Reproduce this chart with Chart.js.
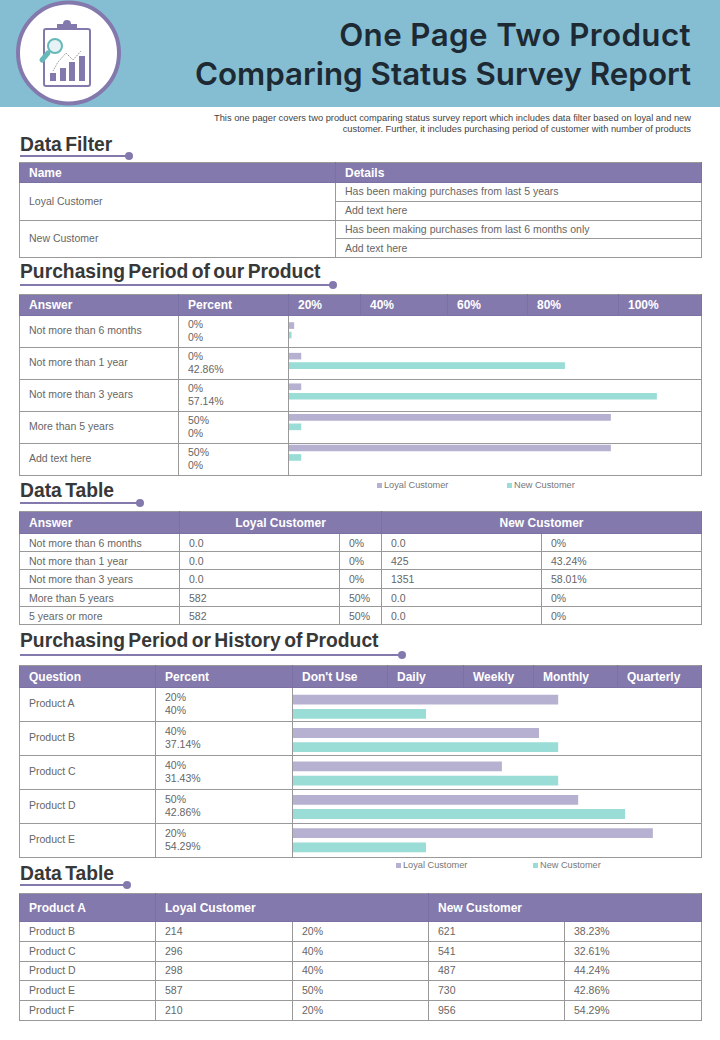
<!DOCTYPE html>
<html>
<head>
<meta charset="utf-8">
<title>One Page Two Product Comparing Status Survey Report</title>
<script src="https://cdn.jsdelivr.net/npm/chart.js@4"></script>
<style>
html, body { margin: 0; padding: 0; background: #fff; }
#page { position: relative; width: 720px; height: 1040px; overflow: hidden; font-family: "Liberation Sans", Arial, sans-serif; }
#banner { position: absolute; left: 0; top: 0; width: 720px; height: 107px; background: #85bed3; }
#title { position: absolute; right: 29px; top: 16px; text-align: right; font-family: Inter, sans-serif; font-weight: 600; font-size: 31.3px; line-height: 39px; color: #1e2a33; white-space: nowrap; }
#title span { letter-spacing: 0.4px; }
#icon { position: absolute; left: 0; top: 0; }
#intro { position: absolute; right: 29px; top: 113px; width: 500px; text-align: right; font-size: 9.3px; line-height: 11px; color: #444; }
.head { position: absolute; left: 20px; font-weight: bold; font-size: 19.3px; line-height: 24px; color: #383838; white-space: nowrap; word-spacing: -2px; }
.rule { position: absolute; left: 20px; height: 2px; background: #8479ad; }
.rule i { position: absolute; right: -4px; top: -3px; width: 8px; height: 8px; border-radius: 50%; background: #8479ad; }
table { position: absolute; left: 19px; width: 682px; table-layout: fixed; border-collapse: collapse; border: 1px solid #999; font-size: 10.5px; color: #666; }
td, th { border: 1px solid #999; padding: 0 0 0 9px; overflow: hidden; white-space: nowrap; line-height: 13px; text-align: left; }
td { padding-bottom: 2px; }
table.low td { padding-bottom: 0; }
table.lower td { padding-top: 2px; padding-bottom: 0; }
td.plot { border-left-color: #666; padding: 0; }
th { background: #8479ad; color: #fff; font-size: 12px; font-weight: bold; border-color: #7b71a5; border-top-color: #999; padding-top: 1px; }
th.mid { text-align: center; padding: 1px 0 0 0; }
.chart { position: absolute; }
.legend { position: absolute; font-size: 9.2px; color: #777; white-space: nowrap; line-height: 10px; }
.legend i { display: inline-block; width: 5px; height: 5px; margin-right: 2px; vertical-align: 0; }
</style>
</head>
<body>
<div id="page">
  <div id="banner"></div>
  <svg id="icon" width="130" height="107" viewBox="0 0 130 107">
    <circle cx="68.5" cy="53" r="50.5" fill="#fff" stroke="#8479ad" stroke-width="4"/>
    <rect x="44" y="29" width="46" height="57" rx="2" fill="#fff" stroke="#8479ad" stroke-width="2"/>
    <path d="M57 29 v-5 h6 a4 4 0 0 1 8 0 h6 v5 z" fill="#8479ad"/>
    <rect x="50" y="73" width="6" height="8" fill="#8479ad"/>
    <rect x="60" y="68" width="6" height="13" fill="#8479ad"/>
    <rect x="69" y="62" width="6" height="19" fill="#8479ad"/>
    <rect x="79" y="56" width="6" height="25" fill="#8479ad"/>
    <polyline points="53,71 58,62 66,53 73,60 81,51" fill="none" stroke="#555" stroke-width="0.6" stroke-dasharray="1.5 1"/>
    <line x1="48" y1="53" x2="42" y2="60" stroke="#66b9b8" stroke-width="5" stroke-linecap="round"/>
    <circle cx="55" cy="46" r="7" fill="#e6f2f5" stroke="#66b9b8" stroke-width="2"/>
  </svg>
  <div id="title"><span>One Page Two Product</span><br>Comparing Status Survey Report</div>
  <div id="intro">This one pager covers two product comparing status survey report which includes data filter based on loyal and new<br>customer. Further, it includes purchasing period of customer with number of products</div>
</div>

<script>
// series
const seriesNames = ["Loyal Customer", "New Customer"];

// purchasing period chart
const periodAnswers = ["Not more than 6 months", "Not more than 1 year", "Not more than 3 years", "More than 5 years", "Add text here"];
const periodLoyalPct = ["0%", "0%", "0%", "50%", "50%"];
const periodNewPct = ["0%", "42.86%", "57.14%", "0%", "0%"];
const periodTicks = ["20%", "40%", "60%", "80%", "100%"];
const periodLoyal = [0.8, 1.9, 1.9, 50, 50];
const periodNew = [0.4, 42.86, 57.14, 1.9, 1.9];

// history chart
const historyProducts = ["Product A", "Product B", "Product C", "Product D", "Product E"];
const historyLoyalPct = ["20%", "40%", "40%", "50%", "20%"];
const historyNewPct = ["40%", "37.14%", "31.43%", "42.86%", "54.29%"];
const historyTicks = ["Don't Use", "Daily", "Weekly", "Monthly", "Quarterly"];
const historyLoyal = [65, 60.3, 51.2, 69.9, 88.2];
const historyNew = [32.6, 65, 65, 81.4, 32.6];

// data filter table
const filterNames = ["Loyal Customer", "New Customer"];
const filterDetails = [
  ["Has been making purchases from last 5 years", "Add text here"],
  ["Has been making purchases from last 6 months only", "Add text here"]
];

// first data table
const tableAnswers = ["Not more than 6 months", "Not more than 1 year", "Not more than 3 years", "More than 5 years", "5 years or more"];
const tableLoyalCount = ["0.0", "0.0", "0.0", "582", "582"];
const tableLoyalPct = ["0%", "0%", "0%", "50%", "50%"];
const tableNewCount = ["0.0", "425", "1351", "0.0", "0.0"];
const tableNewPct = ["0%", "43.24%", "58.01%", "0%", "0%"];

// second data table
const productNames = ["Product B", "Product C", "Product D", "Product E", "Product F"];
const productLoyalCount = ["214", "296", "298", "587", "210"];
const productLoyalPct = ["20%", "40%", "40%", "50%", "20%"];
const productNewCount = ["621", "541", "487", "730", "956"];
const productNewPct = ["38.23%", "32.61%", "44.24%", "42.86%", "54.29%"];

const purple = "#b7b1d1";
const teal = "#9adcd6";
const page = document.getElementById("page");

function addHeading(text, top, ruleTop, ruleEnd) {
    let h = document.createElement("div");
    h.className = "head";
    h.style.top = top + "px";
    h.textContent = text;
    page.appendChild(h);
    let r = document.createElement("div");
    r.className = "rule";
    r.style.top = ruleTop + "px";
    r.style.width = (ruleEnd - 20) + "px";
    r.innerHTML = "<i></i>";
    page.appendChild(r);
}

function addTable(top, cols, html, cls) {
    let t = document.createElement("table");
    t.style.top = top + "px";
    if (cls) {
        t.className = cls;
    }
    let g = "<colgroup>";
    for (let i = 0; i < cols.length; i++) {
        g += '<col style="width:' + cols[i] + 'px">';
    }
    t.innerHTML = g + "</colgroup>" + html;
    page.appendChild(t);
}

function headRow(h, cells) {
    return '<tr style="height:' + h + 'px">' + cells.join("") + "</tr>";
}

function th(text) {
    return "<th>" + text + "</th>";
}

function addLegend(top, left1, left2) {
    let lefts = [left1, left2];
    let colors = [purple, teal];
    for (let i = 0; i < seriesNames.length; i++) {
        let l = document.createElement("div");
        l.className = "legend";
        l.style.left = lefts[i] + "px";
        l.style.top = top + "px";
        l.innerHTML = '<i style="background:' + colors[i] + '"></i>' + seriesNames[i];
        page.appendChild(l);
    }
}

function addChart(left, top, width, height, labels, loyal, fresh, xMax, catPct, barPct) {
    let box = document.createElement("div");
    box.className = "chart";
    box.style.cssText = "left:" + left + "px;top:" + top + "px;width:" + width + "px;height:" + height + "px";
    let canvas = document.createElement("canvas");
    box.appendChild(canvas);
    page.appendChild(box);
    new Chart(canvas, {
        type: "bar",
        data: {
            labels: labels,
            datasets: [
                { label: seriesNames[0], data: loyal, backgroundColor: purple, categoryPercentage: catPct, barPercentage: barPct },
                { label: seriesNames[1], data: fresh, backgroundColor: teal, categoryPercentage: catPct, barPercentage: barPct }
            ]
        },
        options: {
            indexAxis: "y",
            responsive: true,
            maintainAspectRatio: false,
            animation: false,
            layout: { padding: 0 },
            plugins: { legend: { display: false }, tooltip: { enabled: false } },
            scales: {
                x: { display: false, min: 0, max: xMax },
                y: { display: false }
            }
        }
    });
}

// Data Filter
addHeading("Data Filter", 133, 155, 129);
let filterHtml = headRow(20, [th("Name"), th("Details")]);
for (let i = 0; i < filterNames.length; i++) {
    filterHtml += '<tr style="height:18.75px"><td rowspan="2">' + filterNames[i] + "</td><td>" + filterDetails[i][0] + "</td></tr>";
    filterHtml += '<tr style="height:18.75px"><td>' + filterDetails[i][1] + "</td></tr>";
}
addTable(162, [316, 366], filterHtml, "low");

// Purchasing Period of our Product
addHeading("Purchasing Period of our Product", 260, 284, 333);
let periodHtml = headRow(21, [th("Answer"), th("Percent")].concat(periodTicks.map(th)));
for (let i = 0; i < periodAnswers.length; i++) {
    periodHtml += '<tr style="height:32px"><td>' + periodAnswers[i] + "</td><td>" + periodLoyalPct[i] + "<br>" + periodNewPct[i] + '</td><td class="plot" colspan="5"></td></tr>';
}
addTable(294, [159, 110, 72, 87, 80, 91, 83], periodHtml);
addChart(289, 315, 412, 153, periodAnswers, periodLoyal, periodNew, 64, 0.62, 0.7);
addLegend(480, 377, 507);

// Data Table
addHeading("Data Table", 479, 502, 140);
let tableHtml = headRow(22, [th("Answer"), '<th class="mid" colspan="2">' + seriesNames[0] + "</th>", '<th class="mid" colspan="2">' + seriesNames[1] + "</th>"]);
for (let i = 0; i < tableAnswers.length; i++) {
    tableHtml += '<tr style="height:18.2px"><td>' + tableAnswers[i] + "</td><td>" + tableLoyalCount[i] + "</td><td>" + tableLoyalPct[i] + "</td><td>" + tableNewCount[i] + "</td><td>" + tableNewPct[i] + "</td></tr>";
}
addTable(511, [160, 160, 42, 160, 160], tableHtml, "lower");

// Purchasing Period or History of Product
addHeading("Purchasing Period or History of Product", 629, 654, 402);
let historyHtml = headRow(22, [th("Question"), th("Percent")].concat(historyTicks.map(th)));
for (let i = 0; i < historyProducts.length; i++) {
    historyHtml += '<tr style="height:34px"><td>' + historyProducts[i] + "</td><td>" + historyLoyalPct[i] + "<br>" + historyNewPct[i] + '</td><td class="plot" colspan="5"></td></tr>';
}
addTable(665, [136, 137, 95, 76, 70, 84, 84], historyHtml);
addChart(293, 690, 408, 167, historyProducts, historyLoyal, historyNew, 100, 0.85, 0.69);
addLegend(860, 396, 533);

// Data Table
addHeading("Data Table", 862, 884, 127);
let productHtml = headRow(28, [th("Product A"), '<th colspan="2">' + seriesNames[0] + "</th>", '<th colspan="2">' + seriesNames[1] + "</th>"]);
for (let i = 0; i < productNames.length; i++) {
    productHtml += '<tr style="height:19.8px"><td>' + productNames[i] + "</td><td>" + productLoyalCount[i] + "</td><td>" + productLoyalPct[i] + "</td><td>" + productNewCount[i] + "</td><td>" + productNewPct[i] + "</td></tr>";
}
addTable(893, [136, 137, 136, 136, 137], productHtml, "low");
</script>
</body>
</html>
